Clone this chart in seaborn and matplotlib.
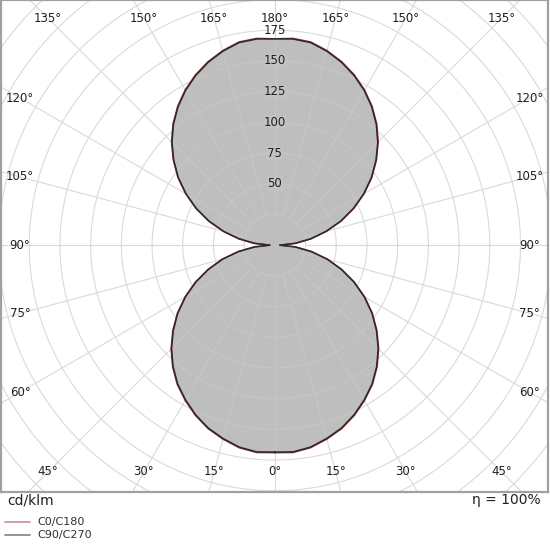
import numpy as np
import pandas as pd
import matplotlib
matplotlib.use("Agg")
import matplotlib.pyplot as plt
from matplotlib.patches import Polygon
import seaborn as sns

sns.set_theme(style="white")
plt.rcParams['font.family'] = ['DejaVu Sans']

# ---- data (cd/klm) ----
gamma = [0, 5, 10, 15, 20, 25, 30, 35, 40, 45, 50, 55, 60, 65, 70, 75, 80, 85, 90,
         95, 100, 105, 110, 115, 120, 125, 130, 135, 140, 145, 150, 155, 160, 165, 170, 175, 180]
c0_c180 = [169, 169.5, 167.5, 163.5, 159, 153, 146, 138.5, 129.5, 119.5, 108.5, 97, 84.5, 71.5, 58, 44.5, 30.5, 17, 4,
           17, 30, 43.5, 57.5, 71, 84, 96.5, 108, 119, 129, 138, 146, 153, 159, 164, 168, 169, 168]
c90_c270 = [168.5, 169, 167, 163, 158.5, 152.5, 145.5, 138, 129, 119, 108, 96.5, 84, 71, 57.5, 44, 30, 16.5, 4,
            16.5, 29.5, 43, 57, 70.5, 83.5, 96, 107.5, 118.5, 128.5, 137.5, 145.5, 152.5, 158.5, 163.5, 167.5, 168.5, 168]
ring_values = [25, 50, 75, 100, 125, 150, 175, 200, 225, 250, 275, 300]
ring_labels = [50, 75, 100, 125, 150, 175]
angle_ticks = [0, 15, 30, 45, 60, 75, 90, 105, 120, 135, 150, 165, 180]
series_names = ["C0/C180", "C90/C270"]
unit_text = "cd/klm"
eta_text = "η = 100%"


def to_xy(g, r, side):
    g = np.radians(np.asarray(g, float))
    r = np.asarray(r, float)
    return side * r * np.sin(g), -r * np.cos(g)


fig = plt.figure(figsize=(5.5, 5.5), dpi=100)
ax = fig.add_axes([1 / 550, 58 / 550, 547 / 550, 492 / 550])
ax.set_xlim(-223, 222.4)
ax.set_ylim(-201, 199.6)
ax.set_xticks([])
ax.set_yticks([])
for s in ax.spines.values():
    s.set_color('#a0a0a0')
    s.set_linewidth(1.6)

# build closed outline (right half then left half mirrored)
frames = []
for name, vals in [("C0/C180", c0_c180), ("C90/C270", c90_c270)]:
    xr, yr = to_xy(gamma, vals, 1)
    xl, yl = to_xy(gamma[::-1], vals[::-1], -1)
    x = np.concatenate([xr, xl])
    y = np.concatenate([yr, yl])
    frames.append(pd.DataFrame({"x": x, "y": y, "series": name, "idx": np.arange(len(x))}))
df = pd.concat(frames, ignore_index=True)

d0 = df[df.series == "C0/C180"]
fill_patch = Polygon(np.column_stack([d0.x, d0.y]), closed=True, fc='#bebebe', ec='none', zorder=3)
ax.add_patch(fill_patch)

th = np.linspace(0, 2 * np.pi, 400)


def draw_grid(color, zorder, clip=None):
    lines = []
    for r in ring_values:
        lines += ax.plot(r * np.cos(th), r * np.sin(th), color=color, lw=0.8, zorder=zorder)
    for a in range(0, 360, 15):
        t = np.radians(a)
        lines += ax.plot([25 * np.cos(t), 320 * np.cos(t)], [25 * np.sin(t), 320 * np.sin(t)],
                         color=color, lw=0.8, zorder=zorder)
    if clip is not None:
        for ln in lines:
            ln.set_clip_path(clip)


draw_grid('#dadada', 2)
draw_grid('#c6c6c6', 3.5, clip=fill_patch)

# curves
sns.lineplot(data=df, x="x", y="y", hue="series", units="series", estimator=None, sort=False,
             palette={"C0/C180": "#a83232", "C90/C270": "#2a2a2a"}, lw=1.1, ax=ax,
             legend=False, zorder=4)

# ring labels
top_value = max(c0_c180[-1], c90_c270[-1])
for r in ring_labels:
    kw = {}
    if r < top_value:
        kw['bbox'] = dict(boxstyle='square,pad=0.05', fc='#c6c6cc', ec='none', alpha=0.5)
    ax.text(0, r, str(r), ha='center', va='center', fontsize=8.5, color='#202020', zorder=5, **kw)

# angle labels on inset rectangle
XL, YT = 207.5, 184.6
for side in (1, -1):
    for g in angle_ticks:
        if side == -1 and g in (0, 180):
            continue
        t = np.radians(g)
        dx, dy = side * np.sin(t), -np.cos(t)
        k = min(XL / abs(dx) if abs(dx) > 1e-9 else 1e9, YT / abs(dy) if abs(dy) > 1e-9 else 1e9)
        ax.text(k * dx, k * dy, f"{g}°", ha='center', va='center', fontsize=8.5, color='#202020', zorder=5)

fig.text(7 / 550, 1 - 500 / 550, unit_text, ha='left', va='center', fontsize=10, color='#202020')
fig.text(541 / 550, 1 - 500 / 550, eta_text, ha='right', va='center', fontsize=10, color='#202020')

# legend
for i, (name, col) in enumerate(zip(series_names, ["#c89090", "#808080"])):
    yy = 1 - (522 + 13 * i) / 550
    fig.add_artist(plt.Line2D([5 / 550, 30 / 550], [yy, yy], color=col, lw=1.2, transform=fig.transFigure))
    fig.text(37 / 550, yy, name, ha='left', va='center', fontsize=8, color='#303030')

fig.savefig("out.png", dpi=100)
